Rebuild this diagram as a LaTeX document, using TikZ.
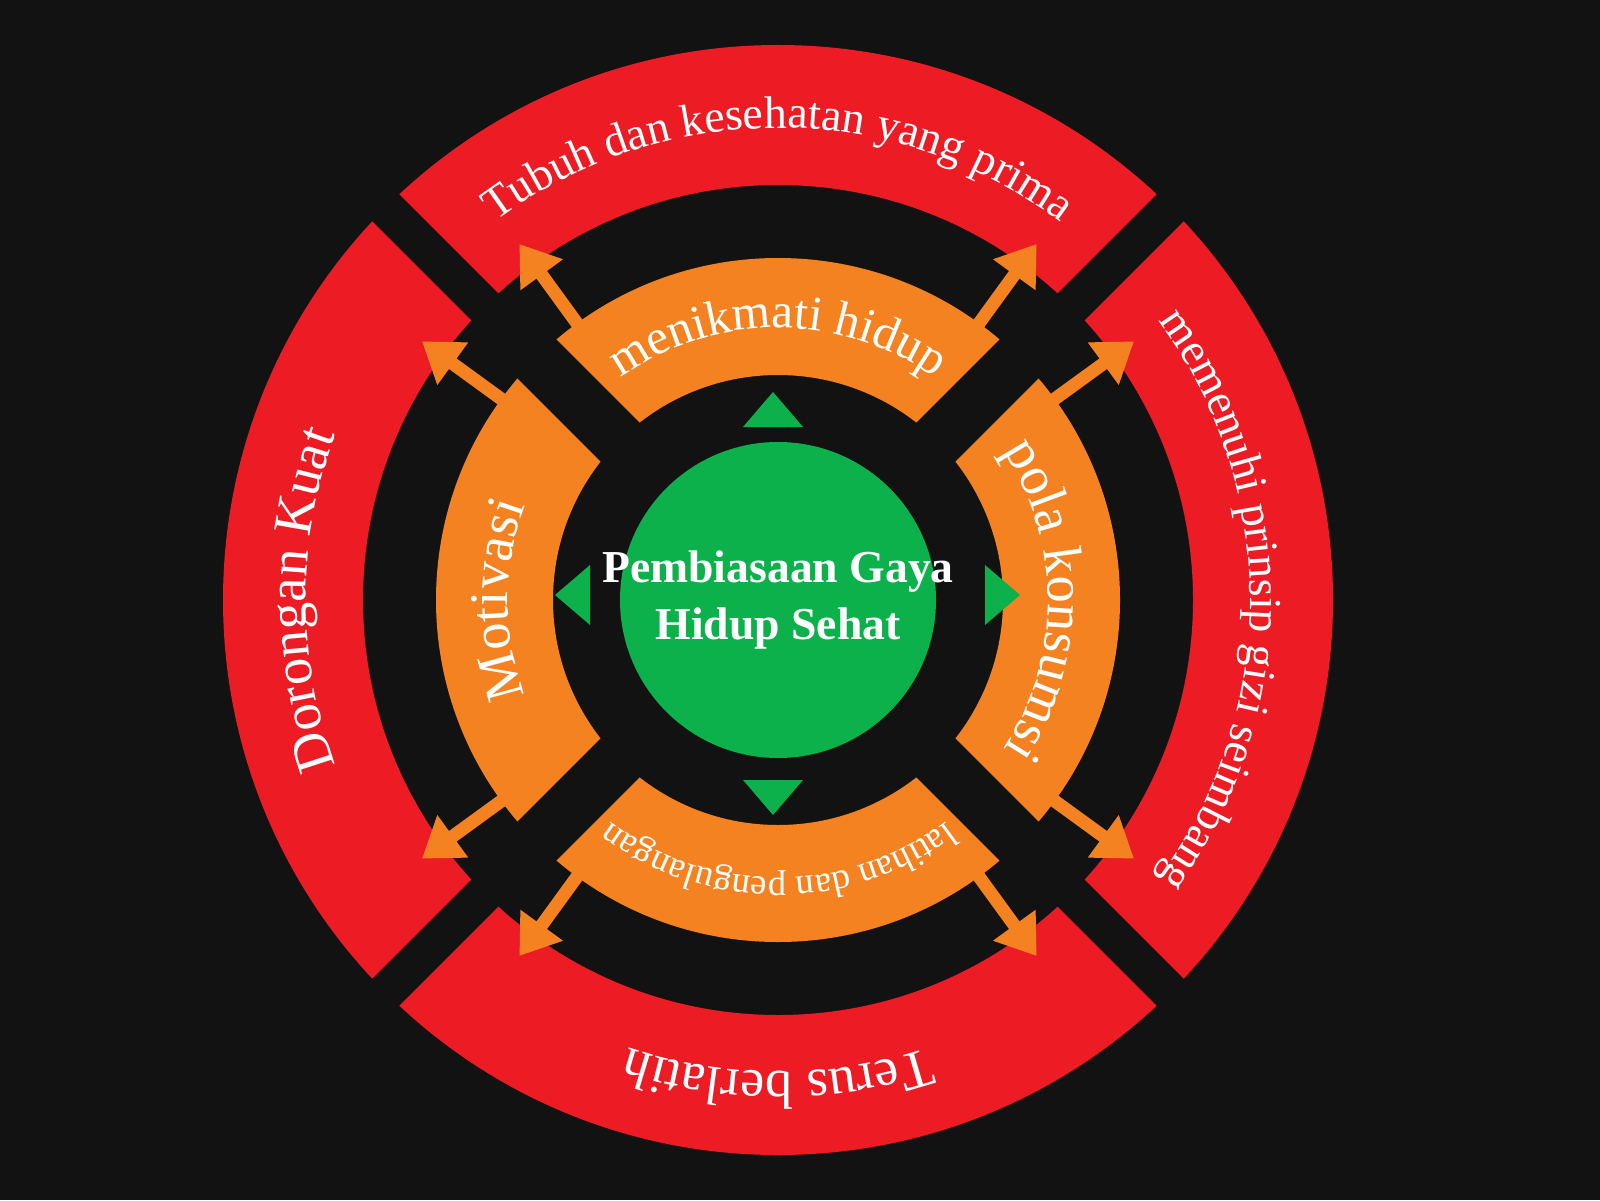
\documentclass[tikz,border=0pt]{standalone}
\usepackage{fontspec}
\setmainfont{Liberation Serif}
\usetikzlibrary{arrows.meta,decorations.text}
\definecolor{bgc}{HTML}{121212}
\definecolor{redc}{HTML}{ED1C24}
\definecolor{orc}{HTML}{F58220}
\definecolor{grc}{HTML}{0DB14B}
\newcommand{\fsA}{\fontsize{13pt}{15pt}\selectfont}
\newcommand{\fsB}{\fontsize{15.5pt}{17pt}\selectfont}
\newcommand{\fsC}{\fontsize{10.5pt}{12pt}\selectfont}
\newcommand{\fsD}{\fontsize{14pt}{16pt}\selectfont}
\begin{document}
\begin{tikzpicture}[
  gapline/.style={draw=bgc},
  arr/.style={draw=orc,line width=0.13cm,-{Triangle[width=0.5cm,length=0.38cm]}},
  tri/.style={fill=grc},
  txt/.style={decorate,decoration={text along path,text align=center,text color=white,text={#1}}}
]
\fill[bgc] (0,0) rectangle (16,12);
\useasboundingbox (0,0) rectangle (16,12);
\coordinate (c) at (7.78,6.0);
% red ring
\fill[redc,even odd rule] (c) circle (5.55) (c) circle (4.15);
\foreach \a in {45,135,225,315}
  \draw[gapline,line width=0.38cm] (c) ++(\a:3.9) -- ++(\a:1.9);
% orange ring
\fill[orc,even odd rule] (c) circle (3.42) (c) circle (2.25);
\foreach \a in {45,135,225,315}
  \draw[gapline,line width=0.55cm] (c) ++(\a:2.0) -- ++(\a:1.6);
% arrows
\foreach \a in {45,135,225,315}{
  \draw[arr] (c) ++(\a+9:3.1) -- ++(\a+9:1.3);
  \draw[arr] (c) ++(\a-9:3.1) -- ++(\a-9:1.3);
}
% green circle
\fill[grc] (c) circle (1.58);
\node[align=center,text=white,font=\bfseries\fontsize{13pt}{16pt}\selectfont] (core) at (c) {Pembiasaan Gaya\\Hidup Sehat};
% triangles
\fill[tri] (7.73,8.08) -- (7.43,7.73) -- (8.03,7.73) -- cycle;
\fill[tri] (7.73,3.85) -- (7.43,4.2) -- (8.03,4.2) -- cycle;
\fill[tri] (5.55,6.05) -- (5.9,6.35) -- (5.9,5.75) -- cycle;
\fill[tri] (10.2,6.05) -- (9.85,6.35) -- (9.85,5.75) -- cycle;
% red texts
\path[txt={|\fsA|Tubuh dan kesehatan yang prima}] (c) ++(132:4.72) arc[start angle=132,end angle=48,radius=4.72];
\path[txt={|\fsA|memenuhi prinsip gizi seimbang}] (c) ++(42:4.72) arc[start angle=42,end angle=-42,radius=4.72];
\path[txt={|\fsB|Terus berlatih}] (c) ++(-48:4.72) arc[start angle=-48,end angle=-132,radius=4.72];
\path[txt={|\fsB|Dorongan Kuat}] (c) ++(222:4.72) arc[start angle=222,end angle=138,radius=4.72];
% orange texts
\path[txt={|\fsD|menikmati hidup}] (c) ++(130:2.72) arc[start angle=130,end angle=50,radius=2.72];
\path[txt={|\fsB|pola konsumsi}] (c) ++(40:2.7) arc[start angle=40,end angle=-40,radius=2.7];
\path[txt={|\fsC|latihan dan pengulangan}] (c) ++(-50:2.78) arc[start angle=-50,end angle=-130,radius=2.78];
\path[txt={|\fsB|Motivasi}] (c) ++(220:2.7) arc[start angle=220,end angle=140,radius=2.7];
\end{tikzpicture}
\end{document}
